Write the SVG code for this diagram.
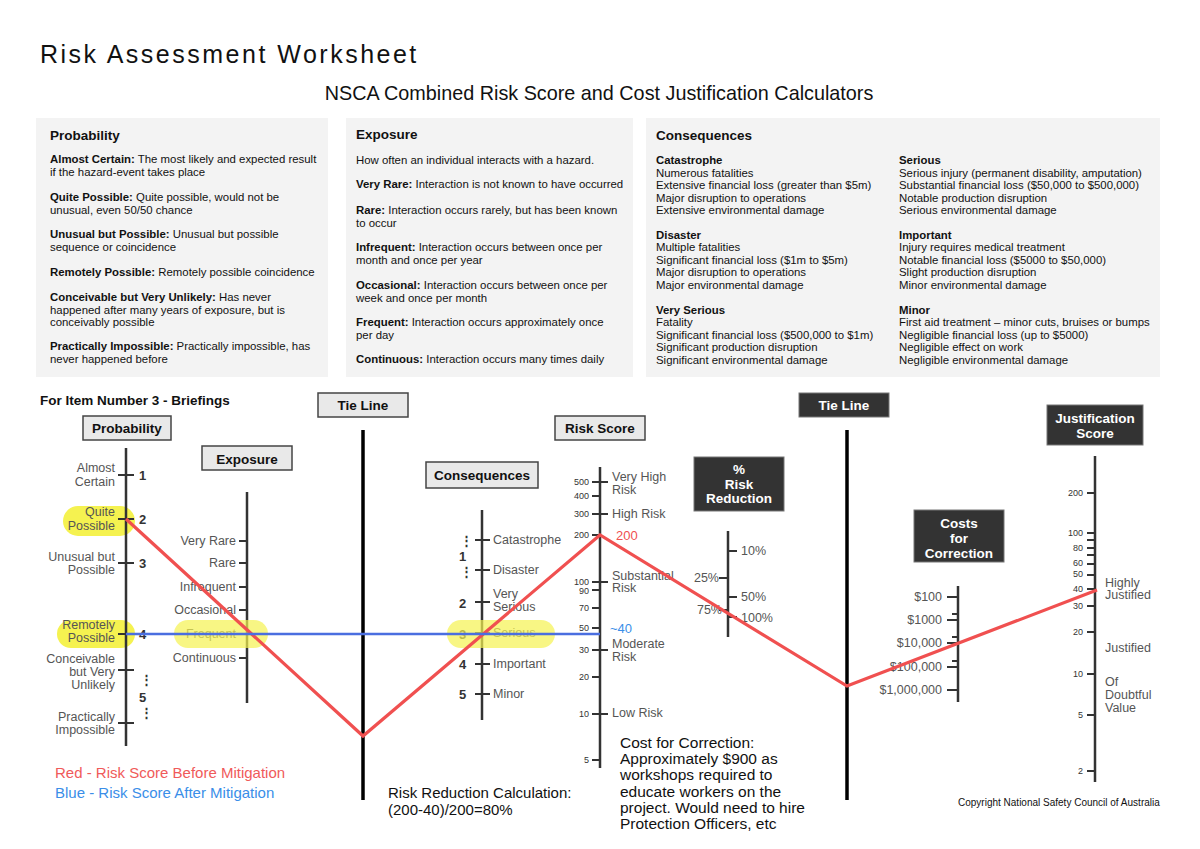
<svg xmlns="http://www.w3.org/2000/svg" width="1200" height="849" viewBox="0 0 1200 849">
<style>
text{font-family:"Liberation Sans",Arial,sans-serif}
.info{font-size:11.4px;fill:#111}
.ih{font-size:13.5px;font-weight:bold;fill:#111}
.b{font-weight:bold}
.panel{fill:#f3f3f3}
.lbox{fill:#e9e9e9;stroke:#444;stroke-width:1.5}
.dbox{fill:#333;stroke:#777;stroke-width:1}
.lt{font-size:13.5px;font-weight:bold;fill:#111;text-anchor:middle}
.dt{font-size:13.5px;font-weight:bold;fill:#fff;text-anchor:middle}
.axis{stroke:#333;stroke-width:2.5;fill:none}
.tie{stroke:#000;stroke-width:3.5}
.tick{stroke:#333;stroke-width:2}
.sl{font-size:12.5px;fill:#555}
.r{text-anchor:end}
.num{font-size:13px;font-weight:bold;fill:#333}
.sm{font-size:9px;fill:#333}
.hl{fill:#f5f250}
.hlo{fill:#f5f250;opacity:0.7}
</style>

<text x="40" y="63" font-size="25" letter-spacing="2.5" fill="#111">Risk Assessment Worksheet</text>
<text x="599" y="100" font-size="19.8" text-anchor="middle" fill="#111">NSCA Combined Risk Score and Cost Justification Calculators</text>

<g id="info-probability">
<rect class="panel" x="36" y="118" width="292" height="259"/>
<text class="ih" x="50" y="140">Probability</text>
<text class="info" x="50" y="163"><tspan class="b">Almost Certain:</tspan> The most likely and expected result</text>
<text class="info" x="50" y="176">if the hazard-event takes place</text>
<text class="info" x="50" y="201"><tspan class="b">Quite Possible:</tspan> Quite possible, would not be</text>
<text class="info" x="50" y="214">unusual, even 50/50 chance</text>
<text class="info" x="50" y="238"><tspan class="b">Unusual but Possible:</tspan> Unusual but possible</text>
<text class="info" x="50" y="251">sequence or coincidence</text>
<text class="info" x="50" y="276"><tspan class="b">Remotely Possible:</tspan> Remotely possible coincidence</text>
<text class="info" x="50" y="301"><tspan class="b">Conceivable but Very Unlikely:</tspan> Has never</text>
<text class="info" x="50" y="314">happened after many years of exposure, but is</text>
<text class="info" x="50" y="326">conceivably possible</text>
<text class="info" x="50" y="350"><tspan class="b">Practically Impossible:</tspan> Practically impossible, has</text>
<text class="info" x="50" y="363">never happened before</text>
</g>

<g id="info-exposure">
<rect class="panel" x="346" y="118" width="287" height="259"/>
<text class="ih" x="356" y="139">Exposure</text>
<text class="info" x="356" y="164">How often an individual interacts with a hazard.</text>
<text class="info" x="356" y="188"><tspan class="b">Very Rare:</tspan> Interaction is not known to have occurred</text>
<text class="info" x="356" y="214"><tspan class="b">Rare:</tspan> Interaction occurs rarely, but has been known</text>
<text class="info" x="356" y="227">to occur</text>
<text class="info" x="356" y="251"><tspan class="b">Infrequent:</tspan> Interaction occurs between once per</text>
<text class="info" x="356" y="264">month and once per year</text>
<text class="info" x="356" y="289"><tspan class="b">Occasional:</tspan> Interaction occurs between once per</text>
<text class="info" x="356" y="302">week and once per month</text>
<text class="info" x="356" y="326"><tspan class="b">Frequent:</tspan> Interaction occurs approximately once</text>
<text class="info" x="356" y="339">per day</text>
<text class="info" x="356" y="363"><tspan class="b">Continuous:</tspan> Interaction occurs many times daily</text>
</g>

<g id="info-consequences">
<rect class="panel" x="646" y="118" width="514" height="259"/>
<text class="ih" x="656" y="140">Consequences</text>
<text class="info b" x="656" y="164">Catastrophe</text>
<text class="info" x="656" y="177">Numerous fatalities</text>
<text class="info" x="656" y="189">Extensive financial loss (greater than $5m)</text>
<text class="info" x="656" y="202">Major disruption to operations</text>
<text class="info" x="656" y="214">Extensive environmental damage</text>
<text class="info b" x="656" y="239">Disaster</text>
<text class="info" x="656" y="251">Multiple fatalities</text>
<text class="info" x="656" y="264">Significant financial loss ($1m to $5m)</text>
<text class="info" x="656" y="276">Major disruption to operations</text>
<text class="info" x="656" y="289">Major environmental damage</text>
<text class="info b" x="656" y="314">Very Serious</text>
<text class="info" x="656" y="326">Fatality</text>
<text class="info" x="656" y="339">Significant financial loss ($500,000 to $1m)</text>
<text class="info" x="656" y="351">Significant production disruption</text>
<text class="info" x="656" y="364">Significant environmental damage</text>
<text class="info b" x="899" y="164">Serious</text>
<text class="info" x="899" y="177">Serious injury (permanent disability, amputation)</text>
<text class="info" x="899" y="189">Substantial financial loss ($50,000 to $500,000)</text>
<text class="info" x="899" y="202">Notable production disruption</text>
<text class="info" x="899" y="214">Serious environmental damage</text>
<text class="info b" x="899" y="239">Important</text>
<text class="info" x="899" y="251">Injury requires medical treatment</text>
<text class="info" x="899" y="264">Notable financial loss ($5000 to $50,000)</text>
<text class="info" x="899" y="276">Slight production disruption</text>
<text class="info" x="899" y="289">Minor environmental damage</text>
<text class="info b" x="899" y="314">Minor</text>
<text class="info" x="899" y="326">First aid treatment – minor cuts, bruises or bumps</text>
<text class="info" x="899" y="339">Negligible financial loss (up to $5000)</text>
<text class="info" x="899" y="351">Negligible effect on work</text>
<text class="info" x="899" y="364">Negligible environmental damage</text>
</g>

<text x="40" y="405" font-size="13.5" font-weight="bold" fill="#111">For Item Number 3 - Briefings</text>

<g id="probability-scale">
<rect class="lbox" x="83" y="416" width="88" height="24"/>
<text class="lt" x="127" y="433">Probability</text>
<rect class="hl" x="63" y="506" width="72" height="30" rx="15"/>
<rect class="hl" x="57" y="620" width="78" height="28" rx="14"/>
<line class="axis" x1="126" y1="448" x2="126" y2="746"/>
<path class="tick" d="M118 475H134M118 519H134M118 563H134M118 634H134M118 670H134M118 723H134"/>
<text class="sl r" x="115" y="472">Almost</text><text class="sl r" x="115" y="486">Certain</text>
<text class="sl r" x="115" y="516">Quite</text><text class="sl r" x="115" y="530">Possible</text>
<text class="sl r" x="115" y="561">Unusual but</text><text class="sl r" x="115" y="574">Possible</text>
<text class="sl r" x="115" y="629">Remotely</text><text class="sl r" x="115" y="642">Possible</text>
<text class="sl r" x="115" y="663">Conceivable</text><text class="sl r" x="115" y="676">but Very</text><text class="sl r" x="115" y="689">Unlikely</text>
<text class="sl r" x="115" y="721">Practically</text><text class="sl r" x="115" y="734">Impossible</text>
<text class="num" x="139" y="480">1</text>
<text class="num" x="139" y="524">2</text>
<text class="num" x="139" y="568">3</text>
<text class="num" x="139" y="639">4</text>
<text class="num" x="140" y="684">⋮</text>
<text class="num" x="139" y="702">5</text>
<text class="num" x="140" y="717">⋮</text>
</g>

<g id="exposure-scale">
<rect class="lbox" x="202" y="446" width="90" height="24"/>
<text class="lt" x="247" y="464">Exposure</text>
<line class="axis" x1="247" y1="492" x2="247" y2="703"/>
<path class="tick" d="M239 541H247M239 563H247M239 587H247M239 610H247M239 634H247M239 658H247"/>
<text class="sl r" x="236" y="545">Very Rare</text>
<text class="sl r" x="236" y="567">Rare</text>
<text class="sl r" x="236" y="591">Infrequent</text>
<text class="sl r" x="236" y="614">Occasional</text>
<text class="sl r" x="236" y="638">Frequent</text>
<text class="sl r" x="236" y="662">Continuous</text>
<rect class="hlo" x="174" y="620" width="94" height="28" rx="14"/>
</g>

<g id="tie-line-1">
<rect class="lbox" x="318" y="393" width="90" height="24"/>
<text class="lt" x="363" y="410">Tie Line</text>
<line class="tie" x1="363" y1="430" x2="363" y2="800"/>
</g>

<g id="consequences-scale">
<rect class="lbox" x="426" y="462" width="112" height="26"/>
<text class="lt" x="482" y="480">Consequences</text>
<line class="axis" x1="482" y1="510" x2="482" y2="720"/>
<path class="tick" d="M475 540H490M475 570H490M475 602H490M475 633H490M475 664H490M475 694H490"/>
<text class="sl" x="493" y="544">Catastrophe</text>
<text class="sl" x="493" y="574">Disaster</text>
<text class="sl" x="493" y="598">Very</text><text class="sl" x="493" y="611">Serious</text>
<text class="sl" x="493" y="637">Serious</text>
<text class="sl" x="493" y="668">Important</text>
<text class="sl" x="493" y="698">Minor</text>
<text class="num" x="460" y="545">⋮</text>
<text class="num" x="459" y="561">1</text>
<text class="num" x="460" y="576">⋮</text>
<text class="num" x="459" y="608">2</text>
<text class="num" x="459" y="639">3</text>
<text class="num" x="459" y="669">4</text>
<text class="num" x="459" y="699">5</text>
<rect class="hlo" x="447" y="620" width="108" height="28" rx="14"/>
</g>

<g id="risk-score-scale">
<rect class="lbox" x="555" y="416" width="90" height="24"/>
<text class="lt" x="600" y="433">Risk Score</text>
<line class="axis" x1="600" y1="467" x2="600" y2="768"/>
<path class="tick" d="M592 482H608M592 496H600M592 514H608M592 535H600M592 582H608M592 590H600M592 608H600M592 628H600M592 650H608M592 677H600M592 714H608M592 760H600"/>
<text class="sm r" x="589" y="485">500</text>
<text class="sm r" x="589" y="499">400</text>
<text class="sm r" x="589" y="517">300</text>
<text class="sm r" x="589" y="538">200</text>
<text class="sm r" x="589" y="585">100</text>
<text class="sm r" x="589" y="594">90</text>
<text class="sm r" x="589" y="611">70</text>
<text class="sm r" x="589" y="631">50</text>
<text class="sm r" x="589" y="653">30</text>
<text class="sm r" x="589" y="680">20</text>
<text class="sm r" x="589" y="717">10</text>
<text class="sm r" x="589" y="763">5</text>
<text class="sl" x="612" y="481">Very High</text><text class="sl" x="612" y="494">Risk</text>
<text class="sl" x="612" y="518">High Risk</text>
<text class="sl" x="612" y="580">Substantial</text><text class="sl" x="612" y="592">Risk</text>
<text class="sl" x="612" y="648">Moderate</text><text class="sl" x="612" y="661">Risk</text>
<text class="sl" x="612" y="717">Low Risk</text>
<text x="616" y="540" font-size="13" fill="#f05050">200</text>
<text x="610" y="633" font-size="13" fill="#3a8ee8">~40</text>
</g>

<g id="risk-reduction-scale">
<rect class="dbox" x="694" y="457" width="90" height="54"/>
<text class="dt" x="739" y="474" font-size="11">%</text>
<text class="dt" x="739" y="489">Risk</text>
<text class="dt" x="739" y="503">Reduction</text>
<line class="axis" x1="728" y1="531" x2="728" y2="637"/>
<path class="tick" d="M728 551H737M719 578H728M728 597H737M719 610H728M728 617H737"/>
<text class="sl" x="741" y="555">10%</text>
<text class="sl r" x="719" y="582">25%</text>
<text class="sl" x="741" y="601">50%</text>
<text class="sl r" x="722" y="614">75%</text>
<text class="sl" x="741" y="622">100%</text>
</g>

<g id="tie-line-2">
<rect class="dbox" x="799" y="393" width="90" height="24"/>
<text class="dt" x="844" y="410">Tie Line</text>
<line class="tie" x1="847" y1="430" x2="847" y2="800"/>
</g>

<g id="costs-scale">
<rect class="dbox" x="914" y="510" width="90" height="52"/>
<text class="dt" x="959" y="528">Costs</text>
<text class="dt" x="959" y="543">for</text>
<text class="dt" x="959" y="558">Correction</text>
<line class="axis" x1="958" y1="586" x2="958" y2="702"/>
<path class="tick" d="M947 597H958M947 620H958M947 643H958M947 667H958M947 690H958M952 614H958M952 637H958M952 661H958"/>
<text class="sl r" x="942" y="601">$100</text>
<text class="sl r" x="942" y="624">$1000</text>
<text class="sl r" x="942" y="647">$10,000</text>
<text class="sl r" x="942" y="671">$100,000</text>
<text class="sl r" x="942" y="694">$1,000,000</text>
</g>

<g id="justification-scale">
<rect class="dbox" x="1047" y="405" width="96" height="40"/>
<text class="dt" x="1095" y="423">Justification</text>
<text class="dt" x="1095" y="438">Score</text>
<line class="axis" x1="1095" y1="456" x2="1095" y2="782"/>
<path class="tick" d="M1087 493H1095M1087 533H1095M1087 540H1095M1087 548H1095M1087 555H1095M1087 564H1095M1087 575H1095M1087 589H1095M1087 606H1095M1087 632H1095M1087 674H1095M1087 715H1095M1087 771H1095"/>
<text class="sm r" x="1083" y="496">200</text>
<text class="sm r" x="1083" y="536">100</text>
<text class="sm r" x="1083" y="551">80</text>
<text class="sm r" x="1083" y="566">60</text>
<text class="sm r" x="1083" y="577">50</text>
<text class="sm r" x="1083" y="592">40</text>
<text class="sm r" x="1083" y="609">30</text>
<text class="sm r" x="1083" y="635">20</text>
<text class="sm r" x="1083" y="677">10</text>
<text class="sm r" x="1083" y="718">5</text>
<text class="sm r" x="1083" y="774">2</text>
<text class="sl" x="1105" y="587">Highly</text><text class="sl" x="1105" y="599">Justified</text>
<text class="sl" x="1105" y="652">Justified</text>
<text class="sl" x="1105" y="686">Of</text><text class="sl" x="1105" y="699">Doubtful</text><text class="sl" x="1105" y="712">Value</text>
</g>

<g id="connectors">
<polyline points="126,519 363,736 600,535 847,686 1097,590" fill="none" stroke="#f05050" stroke-width="3.2" stroke-linejoin="miter"/>
<line x1="126" y1="634" x2="600" y2="634" stroke="#4a6ee0" stroke-width="2.5"/>
</g>

<g id="notes">
<text x="55" y="778" font-size="15" fill="#f05a5a">Red - Risk Score Before Mitigation</text>
<text x="55" y="798" font-size="15" fill="#3a8ee8">Blue - Risk Score After Mitigation</text>
<text x="388" y="798" font-size="15" fill="#111">Risk Reduction Calculation:</text>
<text x="388" y="815" font-size="15" fill="#111">(200-40)/200=80%</text>
<text font-size="15.5" fill="#111"><tspan x="620" y="748">Cost for Correction:</tspan><tspan x="620" y="764">Approximately $900 as</tspan><tspan x="620" y="780">workshops required to</tspan><tspan x="620" y="797">educate workers on the</tspan><tspan x="620" y="813">project. Would need to hire</tspan><tspan x="620" y="829">Protection Officers, etc</tspan></text>
<text x="958" y="806" font-size="10" fill="#111">Copyright National Safety Council of Australia</text>
</g>
</svg>
